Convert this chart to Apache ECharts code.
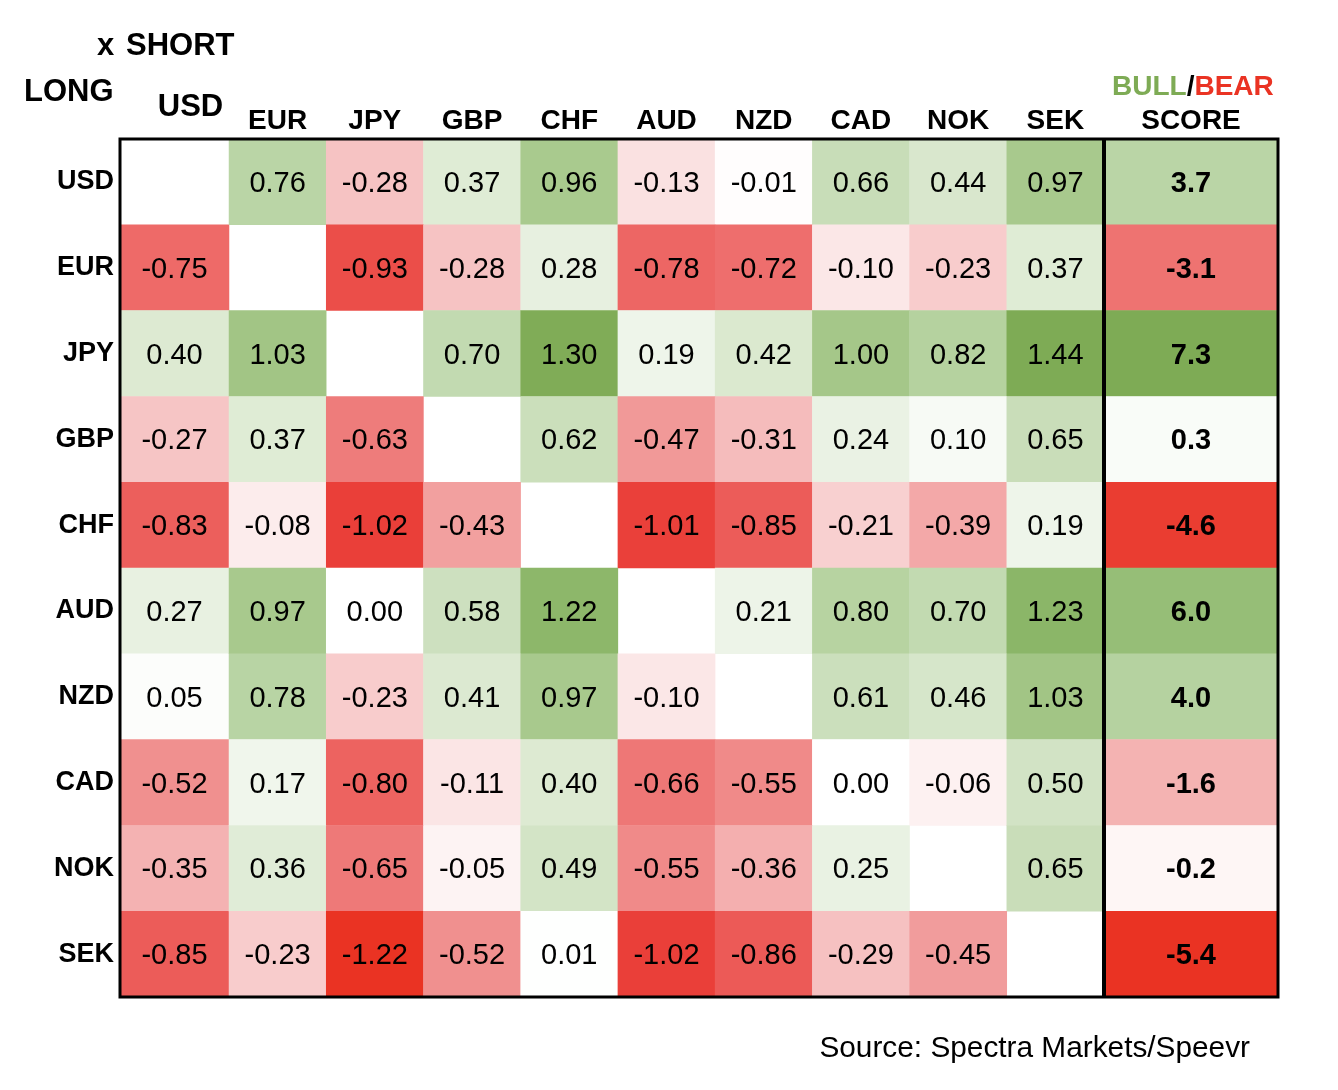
<!DOCTYPE html>
<html>
<head>
<meta charset="utf-8">
<script src="https://cdn.jsdelivr.net/npm/echarts@6/dist/echarts.min.js"></script>
<style>
  html, body { margin: 0; padding: 0; background: #ffffff; }
  #chart { width: 1338px; height: 1090px; }
</style>
</head>
<body>
<div id="chart"></div>
<script>
// ---------- data ----------
const longCurrencies  = ['USD', 'EUR', 'JPY', 'GBP', 'CHF', 'AUD', 'NZD', 'CAD', 'NOK', 'SEK'];
const shortCurrencies = ['USD', 'EUR', 'JPY', 'GBP', 'CHF', 'AUD', 'NZD', 'CAD', 'NOK', 'SEK'];

const rowUSD = [null, 0.76, -0.28, 0.37, 0.96, -0.13, -0.01, 0.66, 0.44, 0.97];
const rowEUR = [-0.75, null, -0.93, -0.28, 0.28, -0.78, -0.72, -0.10, -0.23, 0.37];
const rowJPY = [0.40, 1.03, null, 0.70, 1.30, 0.19, 0.42, 1.00, 0.82, 1.44];
const rowGBP = [-0.27, 0.37, -0.63, null, 0.62, -0.47, -0.31, 0.24, 0.10, 0.65];
const rowCHF = [-0.83, -0.08, -1.02, -0.43, null, -1.01, -0.85, -0.21, -0.39, 0.19];
const rowAUD = [0.27, 0.97, 0.00, 0.58, 1.22, null, 0.21, 0.80, 0.70, 1.23];
const rowNZD = [0.05, 0.78, -0.23, 0.41, 0.97, -0.10, null, 0.61, 0.46, 1.03];
const rowCAD = [-0.52, 0.17, -0.80, -0.11, 0.40, -0.66, -0.55, 0.00, -0.06, 0.50];
const rowNOK = [-0.35, 0.36, -0.65, -0.05, 0.49, -0.55, -0.36, 0.25, null, 0.65];
const rowSEK = [-0.85, -0.23, -1.22, -0.52, 0.01, -1.02, -0.86, -0.29, -0.45, null];

const bullBearScore = [3.7, -3.1, 7.3, 0.3, -4.6, 6.0, 4.0, -1.6, -0.2, -5.4];

const scoreHeader = ['SCORE'];

// ---------- colour scales (style) ----------
const matrixScale = [
  [-1.22, '#EA3323'], [-1.01, '#EA403A'], [-0.85, '#EC5C59'], [-0.75, '#EE6A68'],
  [-0.66, '#EE7776'], [-0.53, '#F08E8D'], [-0.41, '#F2A3A3'], [-0.28, '#F6C3C3'],
  [-0.22, '#F8CECE'], [-0.11, '#FBE5E5'], [-0.05, '#FDF3F3'], [0, '#FFFFFF'],
  [0.06, '#FBFCFA'], [0.18, '#EFF5EB'], [0.40, '#DDEAD2'], [0.50, '#D2E3C5'],
  [0.66, '#C8DDB8'], [0.76, '#BAD5A6'], [0.97, '#A8C98D'], [1.22, '#8DB76A'],
  [1.30, '#80AC57'], [1.44, '#7EAB55']
];
const scoreScale = [
  [-5.4, '#EA3323'], [-4.6, '#EA3D31'], [-3.1, '#EE7371'], [-1.6, '#F4B3B2'],
  [0, '#FFFFFF'], [3.7, '#BAD5A6'], [6.0, '#96BE77'], [7.3, '#7EAB55']
];

function hexToRgb(h) {
  return [parseInt(h.slice(1, 3), 16), parseInt(h.slice(3, 5), 16), parseInt(h.slice(5, 7), 16)];
}
function colourFor(v, scale) {
  if (v <= scale[0][0]) return scale[0][1];
  if (v >= scale[scale.length - 1][0]) return scale[scale.length - 1][1];
  for (let i = 0; i < scale.length - 1; i++) {
    const a = scale[i], b = scale[i + 1];
    if (v >= a[0] && v <= b[0]) {
      const t = (v - a[0]) / (b[0] - a[0]);
      const ca = hexToRgb(a[1]), cb = hexToRgb(b[1]);
      const c = ca.map((x, k) => Math.round(x + (cb[k] - x) * t));
      return 'rgb(' + c.join(',') + ')';
    }
  }
  return '#FFFFFF';
}

// ---------- layout (style) ----------
const FONT = '"Liberation Sans", Arial, Helvetica, sans-serif';
const T = 139, H = 858;
const L = 120, USDR = 229, MR = 1104, R = 1278;

const matrix = [rowUSD, rowEUR, rowJPY, rowGBP, rowCHF, rowAUD, rowNZD, rowCAD, rowNOK, rowSEK];

const dataUSDcol = [];
const dataRest = [];
matrix.forEach((row, r) => {
  row.forEach((v, c) => {
    if (v === null) return;
    const item = { value: [c === 0 ? 0 : c - 1, r, v], itemStyle: { color: colourFor(v, matrixScale) } };
    if (c === 0) dataUSDcol.push(item); else dataRest.push(item);
  });
});
const dataScore = bullBearScore.map((v, r) => ({ value: [0, r, v], itemStyle: { color: colourFor(v, scoreScale) } }));

const cellLabel = {
  show: true, fontFamily: FONT, fontSize: 29, color: '#000', offset: [0, 2],
  formatter: p => p.value[2].toFixed(2)
};

const hiddenAxisBits = { axisLine: { show: false }, axisTick: { show: false }, splitLine: { show: false }, splitArea: { show: false } };

const chart = echarts.init(document.getElementById('chart'), null, { renderer: 'canvas' });
chart.setOption({
  backgroundColor: '#ffffff',
  animation: false,
  grid: [
    { left: L, top: T, width: USDR - L, height: H },
    { left: USDR, top: T, width: MR - USDR, height: H },
    { left: MR, top: T, width: R - MR, height: H }
  ],
  xAxis: [
    Object.assign({ type: 'category', gridIndex: 0, position: 'top', data: shortCurrencies.slice(0, 1),
      axisLabel: { fontFamily: FONT, fontSize: 31, fontWeight: 'bold', color: '#000', margin: 16, padding: [0, 0, 0, 32] } }, hiddenAxisBits),
    Object.assign({ type: 'category', gridIndex: 1, position: 'top', data: shortCurrencies.slice(1),
      axisLabel: { fontFamily: FONT, fontSize: 28, fontWeight: 'bold', color: '#000', margin: 4, interval: 0 } }, hiddenAxisBits),
    Object.assign({ type: 'category', gridIndex: 2, position: 'top', data: scoreHeader,
      axisLabel: { fontFamily: FONT, fontSize: 28, fontWeight: 'bold', color: '#000', margin: 4 } }, hiddenAxisBits)
  ],
  yAxis: [
    Object.assign({ type: 'category', gridIndex: 0, inverse: true, data: longCurrencies,
      axisLabel: { fontFamily: FONT, fontSize: 27, fontWeight: 'bold', color: '#000', margin: 6, interval: 0 } }, hiddenAxisBits),
    Object.assign({ type: 'category', gridIndex: 1, inverse: true, data: longCurrencies, axisLabel: { show: false } }, hiddenAxisBits),
    Object.assign({ type: 'category', gridIndex: 2, inverse: true, data: longCurrencies, axisLabel: { show: false } }, hiddenAxisBits)
  ],
  series: [
    { type: 'heatmap', xAxisIndex: 0, yAxisIndex: 0, data: dataUSDcol, label: cellLabel, itemStyle: { borderWidth: 0 } },
    { type: 'heatmap', xAxisIndex: 1, yAxisIndex: 1, data: dataRest, label: cellLabel, itemStyle: { borderWidth: 0 } },
    { type: 'heatmap', xAxisIndex: 2, yAxisIndex: 2, data: dataScore, itemStyle: { borderWidth: 0 },
      label: { show: true, fontFamily: FONT, fontSize: 29, fontWeight: 'bold', color: '#000', offset: [0, 2],
        formatter: p => p.value[2].toFixed(1) } }
  ],
  graphic: [
    { type: 'rect', z: 100, silent: true,
      shape: { x: L, y: T, width: R - L, height: H },
      style: { fill: null, stroke: '#000', lineWidth: 3 } },
    { type: 'line', z: 100, silent: true,
      shape: { x1: MR, y1: T, x2: MR, y2: T + H },
      style: { stroke: '#000', lineWidth: 4 } },
    { type: 'text', z: 100, left: 97, top: 31,
      style: { text: 'x', font: 'bold 31px ' + FONT, fill: '#000' } },
    { type: 'text', z: 100, left: 126, top: 31,
      style: { text: 'SHORT', font: 'bold 31px ' + FONT, fill: '#000' } },
    { type: 'text', z: 100, left: 24, top: 77,
      style: { text: 'LONG', font: 'bold 31px ' + FONT, fill: '#000' } },
    { type: 'text', z: 100, left: 1112, top: 73,
      style: { text: '{g|BULL}{k|/}{r|BEAR}', font: 'bold 28px ' + FONT,
        rich: {
          g: { fontFamily: FONT, fontSize: 28, fontWeight: 'bold', fill: '#7EAB55', color: '#7EAB55' },
          k: { fontFamily: FONT, fontSize: 28, fontWeight: 'bold', fill: '#000', color: '#000' },
          r: { fontFamily: FONT, fontSize: 28, fontWeight: 'bold', fill: '#EA3323', color: '#EA3323' }
        } } },
    { type: 'text', z: 100, right: 88, top: 1034,
      style: { text: 'Source: Spectra Markets/Speevr', font: '29.8px ' + FONT, fill: '#000' } }
  ]
});
</script>
</body>
</html>
